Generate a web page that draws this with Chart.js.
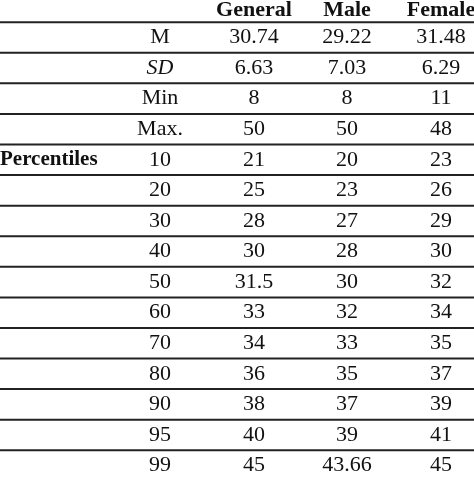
<!DOCTYPE html>
<html><head><meta charset="utf-8">
<script src="https://cdn.jsdelivr.net/npm/chart.js@4"></script>
<style>html,body{margin:0;padding:0;background:#fff}#w{width:474px;height:479px}</style>
</head><body><div id="w"><canvas id="c"></canvas></div>
<script>
const columns = ["General", "Male", "Female"];
const rowLabels = ["M", "SD", "Min", "Max.", "10", "20", "30", "40", "50", "60", "70", "80", "90", "95", "99"];
const general = ["30.74", "6.63", "8", "50", "21", "25", "28", "30", "31.5", "33", "34", "36", "38", "40", "45"];
const male = ["29.22", "7.03", "8", "50", "20", "23", "27", "28", "30", "32", "33", "35", "37", "39", "43.66"];
const female = ["31.48", "6.29", "11", "48", "23", "26", "29", "30", "32", "34", "35", "37", "39", "41", "45"];
const groupLabel = "Percentiles";
const groupRow = 4;

const colX = [160, 254, 347, 441];
const font = '"Liberation Serif", serif';

const lineSets = [];
for (let i = 0; i < rowLabels.length; i++) {
  lineSets.push({data: [{x: 0, y: i + 0.5}, {x: 474, y: i + 0.5}], borderColor: '#222', borderWidth: 2, pointRadius: 0, showLine: true});
}

const textPlugin = {
  id: 'tableText',
  afterDatasetsDraw(chart) {
    const ctx = chart.ctx, xs = chart.scales.x, ys = chart.scales.y;
    ctx.save();
    ctx.fillStyle = '#111';
    ctx.textBaseline = 'middle';
    ctx.textAlign = 'center';
    ctx.font = 'bold 22px ' + font;
    columns.forEach((c, j) => ctx.fillText(c, xs.getPixelForValue(colX[j + 1]), ys.getPixelForValue(0.1)));
    rowLabels.forEach((r, i) => {
      const y = ys.getPixelForValue(i + 1);
      ctx.font = (r === 'SD' ? 'italic ' : '') + '22px ' + font;
      ctx.fillText(r, xs.getPixelForValue(colX[0]), y);
      ctx.font = '22px ' + font;
      [general, male, female].forEach((s, j) => ctx.fillText(s[i], xs.getPixelForValue(colX[j + 1]), y));
    });
    ctx.textAlign = 'left';
    ctx.font = 'bold 21px ' + font;
    ctx.fillText(groupLabel, xs.getPixelForValue(0), ys.getPixelForValue(groupRow + 1));
    ctx.restore();
  }
};

new Chart(document.getElementById('c'), {
  type: 'scatter',
  data: {datasets: lineSets},
  options: {
    responsive: true, maintainAspectRatio: false, animation: false,
    layout: {padding: 0},
    plugins: {legend: {display: false}, tooltip: {enabled: false}},
    scales: {
      x: {type: 'linear', min: 0, max: 474, display: false},
      y: {type: 'linear', min: -0.227, max: 15.44, reverse: true, display: false}
    }
  },
  plugins: [textPlugin]
});
</script></body></html>
